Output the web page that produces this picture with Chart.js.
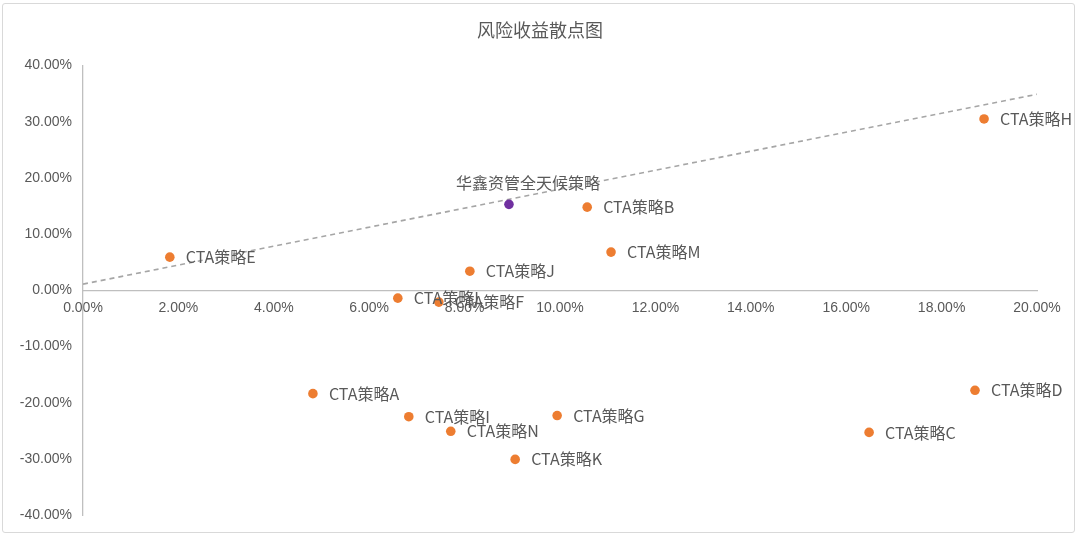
<!DOCTYPE html>
<html>
<head>
<meta charset="utf-8">
<title>风险收益散点图</title>
<script src="https://cdn.jsdelivr.net/npm/chart.js@4.4.1/dist/chart.umd.min.js"></script>
<style>
    html, body { margin: 0; padding: 0; background: #ffffff; }
    #wrap { position: relative; width: 1080px; height: 537px; }
    #frame {
        position: absolute; left: 2px; top: 3px; width: 1073px; height: 530px;
        border: 1px solid #d9d9d9; border-radius: 3px; box-sizing: border-box;
    }
    #chartBox { position: absolute; left: 0; top: 0; width: 1080px; height: 537px; }
</style>
</head>
<body>
<div id="wrap">
    <div id="frame"></div>
    <div id="chartBox"><canvas id="riskChart"></canvas></div>
</div>
<script>
// Strategy names, risk (x, %) and return (y, %)
const ctaNames = ['CTA策略A', 'CTA策略B', 'CTA策略C', 'CTA策略D', 'CTA策略E', 'CTA策略L', 'CTA策略F',
    'CTA策略G', 'CTA策略H', 'CTA策略I', 'CTA策略J', 'CTA策略K', 'CTA策略M', 'CTA策略N'];
const ctaRisk = [4.82, 10.57, 16.48, 18.70, 1.82, 6.60, 7.46, 9.94, 18.89, 6.83, 8.11, 9.06, 11.07, 7.71];
const ctaReturn = [-18.4, 14.8, -25.3, -17.8, 5.9, -1.4, -2.1, -22.3, 30.5, -22.5, 3.4, -30.1, 6.8, -25.1];

const ownNames = ['华鑫资管全天候策略'];
const ownRisk = [8.93];
const ownReturn = [15.3];

// Dashed trend line end points
const trendX = [0, 20];
const trendY = [1.1, 34.9];

// Axis ticks
const xTicks = [0, 2, 4, 6, 8, 10, 12, 14, 16, 18, 20];
const yTicks = [-40, -30, -20, -10, 0, 10, 20, 30, 40];

const toPoints = (xs, ys) => xs.map((x, i) => ({ x: x, y: ys[i] }));
const pct = v => Number(v).toFixed(2) + '%';

// Draws the name next to each point (Excel style data labels)
const pointLabels = {
    id: 'pointLabels',
    afterDatasetsDraw(chart) {
        const ctx = chart.ctx;
        chart.data.datasets.forEach((ds, di) => {
            if (!ds.pointNames) return;
            const meta = chart.getDatasetMeta(di);
            ctx.save();
            ctx.font = '16px "Noto Sans CJK SC", "Noto Sans", sans-serif';
            ctx.fillStyle = '#595959';
            ctx.textBaseline = 'middle';
            ctx.textAlign = ds.labelAlign || 'left';
            meta.data.forEach((pt, i) => {
                ctx.fillText(ds.pointNames[i], pt.x + ds.labelDx, pt.y + ds.labelDy);
            });
            ctx.restore();
        });
    }
};

const canvas = document.getElementById('riskChart');
new Chart(canvas, {
    type: 'scatter',
    data: {
        datasets: [
            {
                label: 'CTA',
                data: toPoints(ctaRisk, ctaReturn),
                backgroundColor: '#ED7D31',
                borderWidth: 0,
                pointRadius: 4.8,
                pointNames: ctaNames,
                labelDx: 16,
                labelDy: 0
            },
            {
                label: '华鑫资管',
                data: toPoints(ownRisk, ownReturn),
                backgroundColor: '#7030A0',
                borderWidth: 0,
                pointRadius: 4.8,
                pointNames: ownNames,
                labelAlign: 'center',
                labelDx: 19,
                labelDy: -21
            },
            {
                type: 'line',
                label: 'trend',
                data: toPoints(trendX, trendY),
                borderColor: '#a6a6a6',
                borderWidth: 1.6,
                borderDash: [5, 4],
                pointRadius: 0,
                fill: false
            }
        ]
    },
    options: {
        responsive: true,
        maintainAspectRatio: false,
        animation: false,
        layout: {
            padding: { top: 8, left: 20, right: 20, bottom: 22 }
        },
        plugins: {
            legend: { display: false },
            tooltip: { enabled: false },
            title: {
                display: true,
                text: '风险收益散点图',
                color: '#595959',
                font: { family: '"Noto Sans CJK SC", sans-serif', size: 18, weight: 'normal' },
                padding: { top: 11, bottom: 25 }
            }
        },
        scales: {
            x: {
                type: 'linear',
                position: { y: 0 },
                min: 0,
                max: 20,
                afterBuildTicks: (axis) => { axis.ticks = xTicks.map(v => ({ value: v })); },
                afterFit: (axis) => { axis.height = 0; },
                grid: { display: false, drawTicks: false },
                border: { display: true, color: '#bfbfbf', width: 1.3 },
                ticks: {
                    color: '#595959',
                    padding: 9,
                    maxRotation: 0,
                    font: { family: '"Liberation Sans", sans-serif', size: 14 },
                    callback: (v) => pct(v)
                }
            },
            y: {
                type: 'linear',
                min: -40,
                max: 40,
                afterBuildTicks: (axis) => { axis.ticks = yTicks.map(v => ({ value: v })); },
                afterFit: (axis) => { axis.width = 63; },
                grid: { display: false, drawTicks: false },
                border: { display: true, color: '#bfbfbf', width: 1.3 },
                ticks: {
                    color: '#595959',
                    padding: 11,
                    font: { family: '"Liberation Sans", sans-serif', size: 14 },
                    callback: (v) => pct(v)
                }
            },
            // empty right axis, only keeps the plot narrower so the title stays centred on the page
            yRight: {
                type: 'linear',
                position: 'right',
                min: -40,
                max: 40,
                afterFit: (axis) => { axis.width = 23; },
                grid: { display: false, drawTicks: false },
                border: { display: false },
                ticks: { display: false }
            }
        }
    },
    plugins: [pointLabels]
});
</script>
</body>
</html>
